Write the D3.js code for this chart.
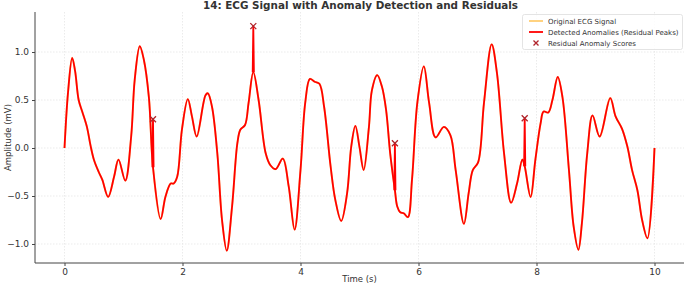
<!DOCTYPE html>
<html>
<head>
<meta charset="utf-8">
<script src="https://cdn.jsdelivr.net/npm/d3@7"></script>
<style>
  html, body { margin: 0; padding: 0; background: #fff; }
  svg { display: block; font-family: "DejaVu Sans", sans-serif; }
</style>
</head>
<body>
<svg id="chart" width="685" height="285"></svg>
<script>
// ---- data ----
const timeS = [0.00,0.06,0.13,0.18,0.24,0.30,0.38,0.44,0.50,0.58,0.64,0.74,0.84,0.915,1.03,1.13,1.19,1.276,1.345,1.43,1.50,1.63,1.71,1.80,1.85,1.91,1.99,2.09,2.16,2.24,2.39,2.43,2.50,2.59,2.67,2.75,2.84,2.93,2.98,3.06,3.12,3.20,3.29,3.41,3.49,3.58,3.70,3.80,3.90,4.00,4.08,4.16,4.24,4.32,4.40,4.51,4.59,4.69,4.79,4.86,4.93,5.00,5.07,5.16,5.21,5.30,5.38,5.45,5.52,5.60,5.64,5.69,5.75,5.82,5.89,5.98,6.09,6.18,6.29,6.43,6.54,6.63,6.77,6.85,6.92,7.01,7.11,7.24,7.33,7.45,7.57,7.67,7.76,7.80,7.90,7.98,8.07,8.12,8.20,8.27,8.36,8.44,8.55,8.63,8.71,8.77,8.86,8.95,9.07,9.25,9.34,9.45,9.54,9.62,9.71,9.79,9.88,10.00];
const amplitudeMV = [0.00,0.58,0.94,0.80,0.50,0.38,0.22,0.03,-0.125,-0.25,-0.33,-0.51,-0.30,-0.12,-0.34,0.12,0.71,1.06,0.92,0.53,-0.20,-0.74,-0.51,-0.37,-0.37,-0.30,0.19,0.51,0.33,0.12,0.55,0.57,0.43,-0.055,-0.75,-1.07,-0.61,0.05,0.19,0.24,0.47,0.79,0.50,-0.055,-0.18,-0.22,-0.11,-0.40,-0.85,-0.23,0.47,0.72,0.69,0.67,0.43,-0.19,-0.54,-0.76,-0.47,0.015,0.23,0.01,-0.23,0.22,0.60,0.76,0.64,0.40,-0.055,-0.44,-0.61,-0.67,-0.68,-0.72,-0.33,0.47,0.85,0.47,0.11,0.22,0.135,-0.23,-0.79,-0.47,-0.23,-0.15,0.47,1.08,0.78,-0.055,-0.57,-0.37,-0.12,-0.19,-0.51,-0.125,0.26,0.38,0.37,0.50,0.74,0.53,-0.23,-0.82,-1.06,-0.78,-0.055,0.34,0.12,0.52,0.33,0.20,0.015,-0.23,-0.44,-0.75,-0.94,0.00];
const anomalyTime = [1.5, 3.2, 5.6, 7.8];
const anomalyScore = [0.30, 1.27, 0.05, 0.31];
const xTicks = [0, 2, 4, 6, 8, 10];
const yTicks = [-1.0, -0.5, 0.0, 0.5, 1.0];
const legendLabels = ["Original ECG Signal", "Detected Anomalies (Residual Peaks)", "Residual Anomaly Scores"];
const titleText = "14: ECG Signal with Anomaly Detection and Residuals";

// ---- layout ----
const svg = d3.select("#chart");
const L = 35, R = 684, T = 12, B = 263;
const x = d3.scaleLinear().domain([-0.5, 10.5]).range([L, R]);
const y = d3.scaleLinear().domain([-1.198, 1.417]).range([B, T]);

// grid
const grid = svg.append("g");
grid.selectAll("line.gx").data(xTicks).enter().append("line")
  .attr("x1", d => x(d)).attr("x2", d => x(d)).attr("y1", T).attr("y2", B)
  .attr("stroke", "#e6e6e6").attr("stroke-width", 0.8).attr("stroke-dasharray", "1.5,1.5");
grid.selectAll("line.gy").data(yTicks).enter().append("line")
  .attr("y1", d => y(d)).attr("y2", d => y(d)).attr("x1", L).attr("x2", R)
  .attr("stroke", "#e6e6e6").attr("stroke-width", 0.8).attr("stroke-dasharray", "1.5,1.5");

// data points
const pts = timeS.map((t, i) => [t, amplitudeMV[i]]);
const line = d3.line().x(d => x(d[0])).y(d => y(d[1])).curve(d3.curveCatmullRom.alpha(0.5));

// original (beneath)
svg.append("path").datum(pts).attr("d", line)
  .attr("fill", "none").attr("stroke", "#ffd280").attr("stroke-width", 2);

// red line with spikes
const g = svg.append("g");
g.append("path").datum(pts).attr("d", line)
  .attr("fill", "none").attr("stroke", "#ff0000").attr("stroke-width", 1.8);
anomalyTime.forEach((t, i) => {
  const idx = timeS.findIndex(v => Math.abs(v - t) < 1e-6);
  const base = amplitudeMV[idx];
  g.append("path")
    .attr("d", `M${x(t) - 0.6},${y(base)}L${x(t)},${y(anomalyScore[i])}L${x(t) + 0.6},${y(base)}`)
    .attr("fill", "none").attr("stroke", "#ff0000").attr("stroke-width", 1.8).attr("stroke-linejoin", "miter");
});

// x markers
const mk = 3;
function xMark(sel, cx, cy, s) {
  sel.append("path").attr("d", `M${cx - s},${cy - s}L${cx + s},${cy + s}M${cx - s},${cy + s}L${cx + s},${cy - s}`)
    .attr("stroke", "#b0232a").attr("stroke-width", 1.3).attr("fill", "none");
}
anomalyTime.forEach((t, i) => xMark(svg, x(t), y(anomalyScore[i]), mk));

// axes spines
const axisColor = "#444";
svg.append("line").attr("x1", L).attr("x2", L).attr("y1", T).attr("y2", B).attr("stroke", axisColor).attr("stroke-width", 1);
svg.append("line").attr("x1", L).attr("x2", R).attr("y1", B).attr("y2", B).attr("stroke", axisColor).attr("stroke-width", 1);

const xAxis = d3.axisBottom(x).tickValues(xTicks).tickFormat(d3.format("d")).tickSize(3).tickPadding(3);
const gx = svg.append("g").attr("transform", `translate(0,${B})`).call(xAxis);
gx.select(".domain").remove();
gx.selectAll("line").attr("stroke", axisColor);
gx.selectAll("text").attr("fill", "#333").attr("font-size", 9).attr("font-family", "DejaVu Sans");

const yAxis = d3.axisLeft(y).tickValues(yTicks).tickFormat(d => d3.format(".1f")(d).replace("-", "\u2212")).tickSize(3).tickPadding(3);
const gy = svg.append("g").attr("transform", `translate(${L},0)`).call(yAxis);
gy.select(".domain").remove();
gy.selectAll("line").attr("stroke", axisColor);
gy.selectAll("text").attr("fill", "#333").attr("font-size", 9).attr("font-family", "DejaVu Sans");

// labels
svg.append("text").attr("x", (L + R) / 2).attr("y", 282).attr("text-anchor", "middle")
  .attr("font-size", 8.5).attr("fill", "#333").text("Time (s)");
svg.append("text").attr("transform", `translate(11,${(T + B) / 2}) rotate(-90)`).attr("text-anchor", "middle")
  .attr("font-size", 8.5).attr("fill", "#333").text("Amplitude (mV)");
svg.append("text").attr("x", (L + R) / 2 + 1).attr("y", 9).attr("text-anchor", "middle")
  .attr("font-size", 10.4).attr("font-weight", "bold").attr("fill", "#333").text(titleText);

// legend
const lg = svg.append("g");
lg.append("rect").attr("x", 522.5).attr("y", 14.5).attr("width", 160).attr("height", 35).attr("rx", 2)
  .attr("fill", "#fff").attr("fill-opacity", 0.85).attr("stroke", "#ddd").attr("stroke-width", 0.8);
const rowsY = [21, 32, 43];
lg.append("line").attr("x1", 529).attr("x2", 543).attr("y1", rowsY[0]).attr("y2", rowsY[0]).attr("stroke", "#ffd280").attr("stroke-width", 2);
lg.append("line").attr("x1", 529).attr("x2", 543).attr("y1", rowsY[1]).attr("y2", rowsY[1]).attr("stroke", "#ff0000").attr("stroke-width", 1.8);
xMark(lg, 536, rowsY[2], 2.5);
legendLabels.forEach((s, i) => {
  lg.append("text").attr("x", 548).attr("y", rowsY[i] + 2.5).attr("font-size", 7).attr("fill", "#333").text(s);
});
</script>
</body>
</html>
